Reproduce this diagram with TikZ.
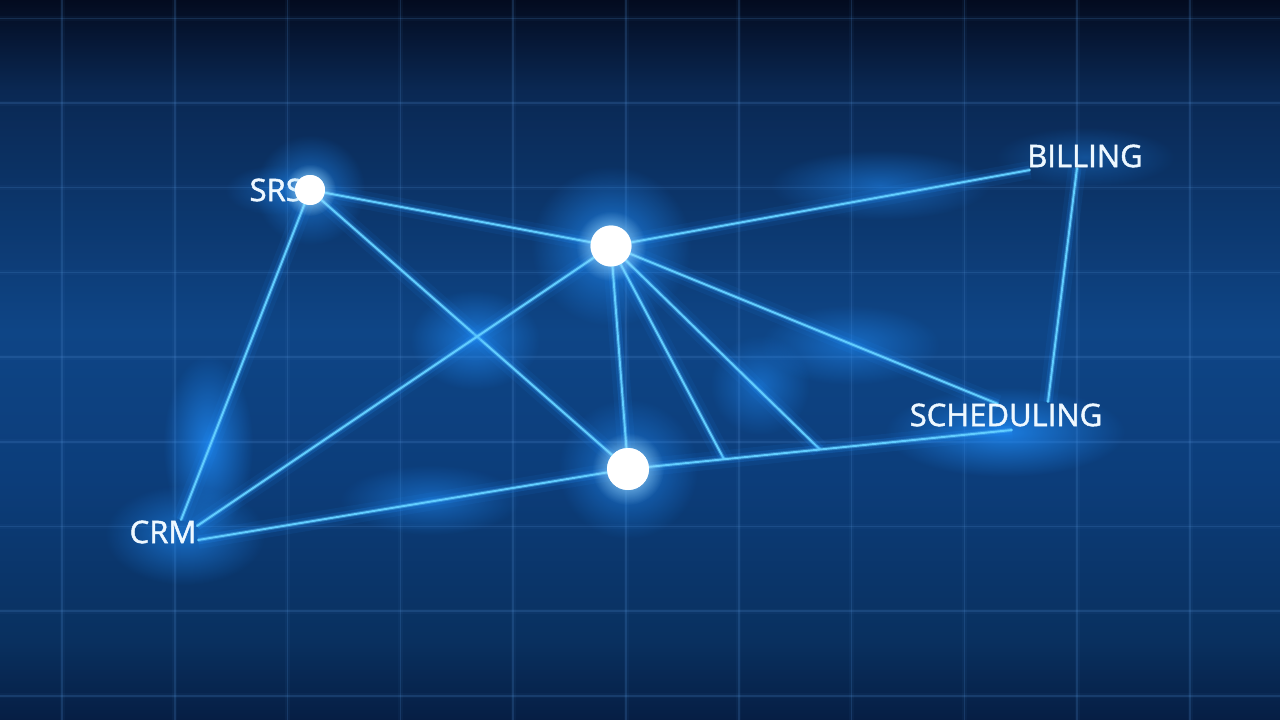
\documentclass[tikz,border=0pt]{standalone}
\usepackage{fontspec}
\setmainfont{Open Sans}
\newfontfamily\lblfont[FakeBold=1.5]{Open Sans}
\usetikzlibrary{fadings,calc}
\tikzfading[name=glowfade, inner color=transparent!0, outer color=transparent!100]
\definecolor{bgA}{HTML}{030B1F}
\definecolor{bgB}{HTML}{0A2853}
\definecolor{bgC}{HTML}{0E4586}
\definecolor{bgD}{HTML}{0C3D7A}
\definecolor{bgE}{HTML}{09305F}
\definecolor{bgF}{HTML}{061E44}
\definecolor{gridc}{HTML}{4F8CD0}
\definecolor{linec}{HTML}{62CEFF}
\definecolor{glowc}{HTML}{2090FF}
\definecolor{txtc}{HTML}{EEF8FF}
\pgfdeclareverticalshading{bgshade}{100bp}{color(0bp)=(bgF); color(25bp)=(bgF); color(30.5bp)=(bgE); color(41.7bp)=(bgD); color(52bp)=(bgC); color(68.7bp)=(bgB); color(75bp)=(bgA); color(100bp)=(bgA)}
\tikzset{
  gridline/.style={gridc, line width=1.5pt, opacity=0.2,
    preaction={draw, gridc, line width=5pt, opacity=0.05}},
  link/.style={linec, line width=1.9pt, line cap=round,
    preaction={draw, glowc, line width=18pt, opacity=0.08},
    preaction={draw, glowc, line width=9pt, opacity=0.18},
    preaction={draw, linec, line width=4pt, opacity=0.35}},
  dot/.style={circle, fill=white, inner sep=0pt},
  lbl/.style={text=txtc, inner sep=0pt, font=\lblfont\fontsize{31}{31}\selectfont},
  blob/.style={fill=glowc, path fading=glowfade},
  wblob/.style={fill=linec!50!white, path fading=glowfade}
}
\begin{document}
\begin{tikzpicture}[x=1pt,y=-1pt]
\useasboundingbox (0,0) rectangle (1280,720);
\shade[shading=bgshade] (0,0) rectangle (1280,720);
% grid
\foreach \k in {0,...,10} \draw[gridline] ({62+112.8*\k},0) -- ({62+112.8*\k},720);
\foreach \k in {0,...,8} \draw[gridline] (0,{18.3+84.7*\k}) -- (1280,{18.3+84.7*\k});
% positions
\coordinate (crmS) at (181,520);
\coordinate (crmH) at (197,526);
\coordinate (crmB) at (198,540);
\coordinate (billA) at (1030,170);
\coordinate (billB) at (1077,168);
\coordinate (schA) at (998,404);
\coordinate (schB) at (1048,402);
\coordinate (schC) at (1012,430);
% glow blobs
\fill[blob, opacity=0.75] (208,445) ellipse (45 and 90);
\fill[blob, opacity=0.6] (185,535) ellipse (80 and 50);
\fill[blob, opacity=0.65] (475,340) ellipse (65 and 50);
\fill[blob, opacity=0.75] (611,246) circle (80);
\fill[blob, opacity=0.65] (628,469) circle (70);
\fill[blob, opacity=0.65] (310,190) circle (55);
\fill[blob, opacity=0.5] (880,185) ellipse (110 and 35);
\fill[blob, opacity=0.5] (850,345) ellipse (90 and 40);
\fill[blob, opacity=0.5] (760,385) ellipse (50 and 50);
\fill[blob, opacity=0.75] (1005,432) ellipse (120 and 45);
\fill[blob, opacity=0.5] (430,500) ellipse (90 and 35);
\fill[blob, opacity=0.35] (1085,157) ellipse (90 and 30);
\fill[blob, opacity=0.35] (275,190) ellipse (50 and 25);
% nodes
\node[dot, minimum size=30pt] (srs) at (310,190) {};
\node[dot, minimum size=41pt] (hub) at (611,246) {};
\node[dot, minimum size=42pt] (bot) at (628,469) {};
\coordinate (j1) at ($(bot)!0.25!(schC)$);
\coordinate (j2) at ($(bot)!0.5!(schC)$);
% links
\draw[link] (srs.center) -- (hub.center);
\draw[link] (srs.center) -- (bot.center);
\draw[link] (crmS) -- (srs.center);
\draw[link] (crmH) -- (hub.center);
\draw[link] (crmB) -- (bot.center);
\draw[link] (hub.center) -- (billA);
\draw[link] (hub.center) -- (schA);
\draw[link] (hub.center) -- (bot.center);
\draw[link] (hub.center) -- (j1);
\draw[link] (hub.center) -- (j2);
\draw[link] (bot.center) -- (schC);
\draw[link] (billB) -- (schB);
% labels
\node[lbl, anchor=east] (srsl) at (303,190) {SRS};
\node[lbl] (crm) at (163,532) {CRM};
\node[lbl] (bill) at (1085,156) {BILLING};
\node[lbl] (sch) at (1006,415) {SCHEDULING};
% node glows and dots on top
\fill[wblob, opacity=0.95] (srs) circle (26);
\fill[wblob, opacity=0.95] (hub) circle (35);
\fill[wblob, opacity=0.95] (bot) circle (36);
\node[dot, minimum size=30pt] at (srs) {};
\node[dot, minimum size=41pt] at (hub) {};
\node[dot, minimum size=42pt] at (bot) {};
\end{tikzpicture}
\end{document}
